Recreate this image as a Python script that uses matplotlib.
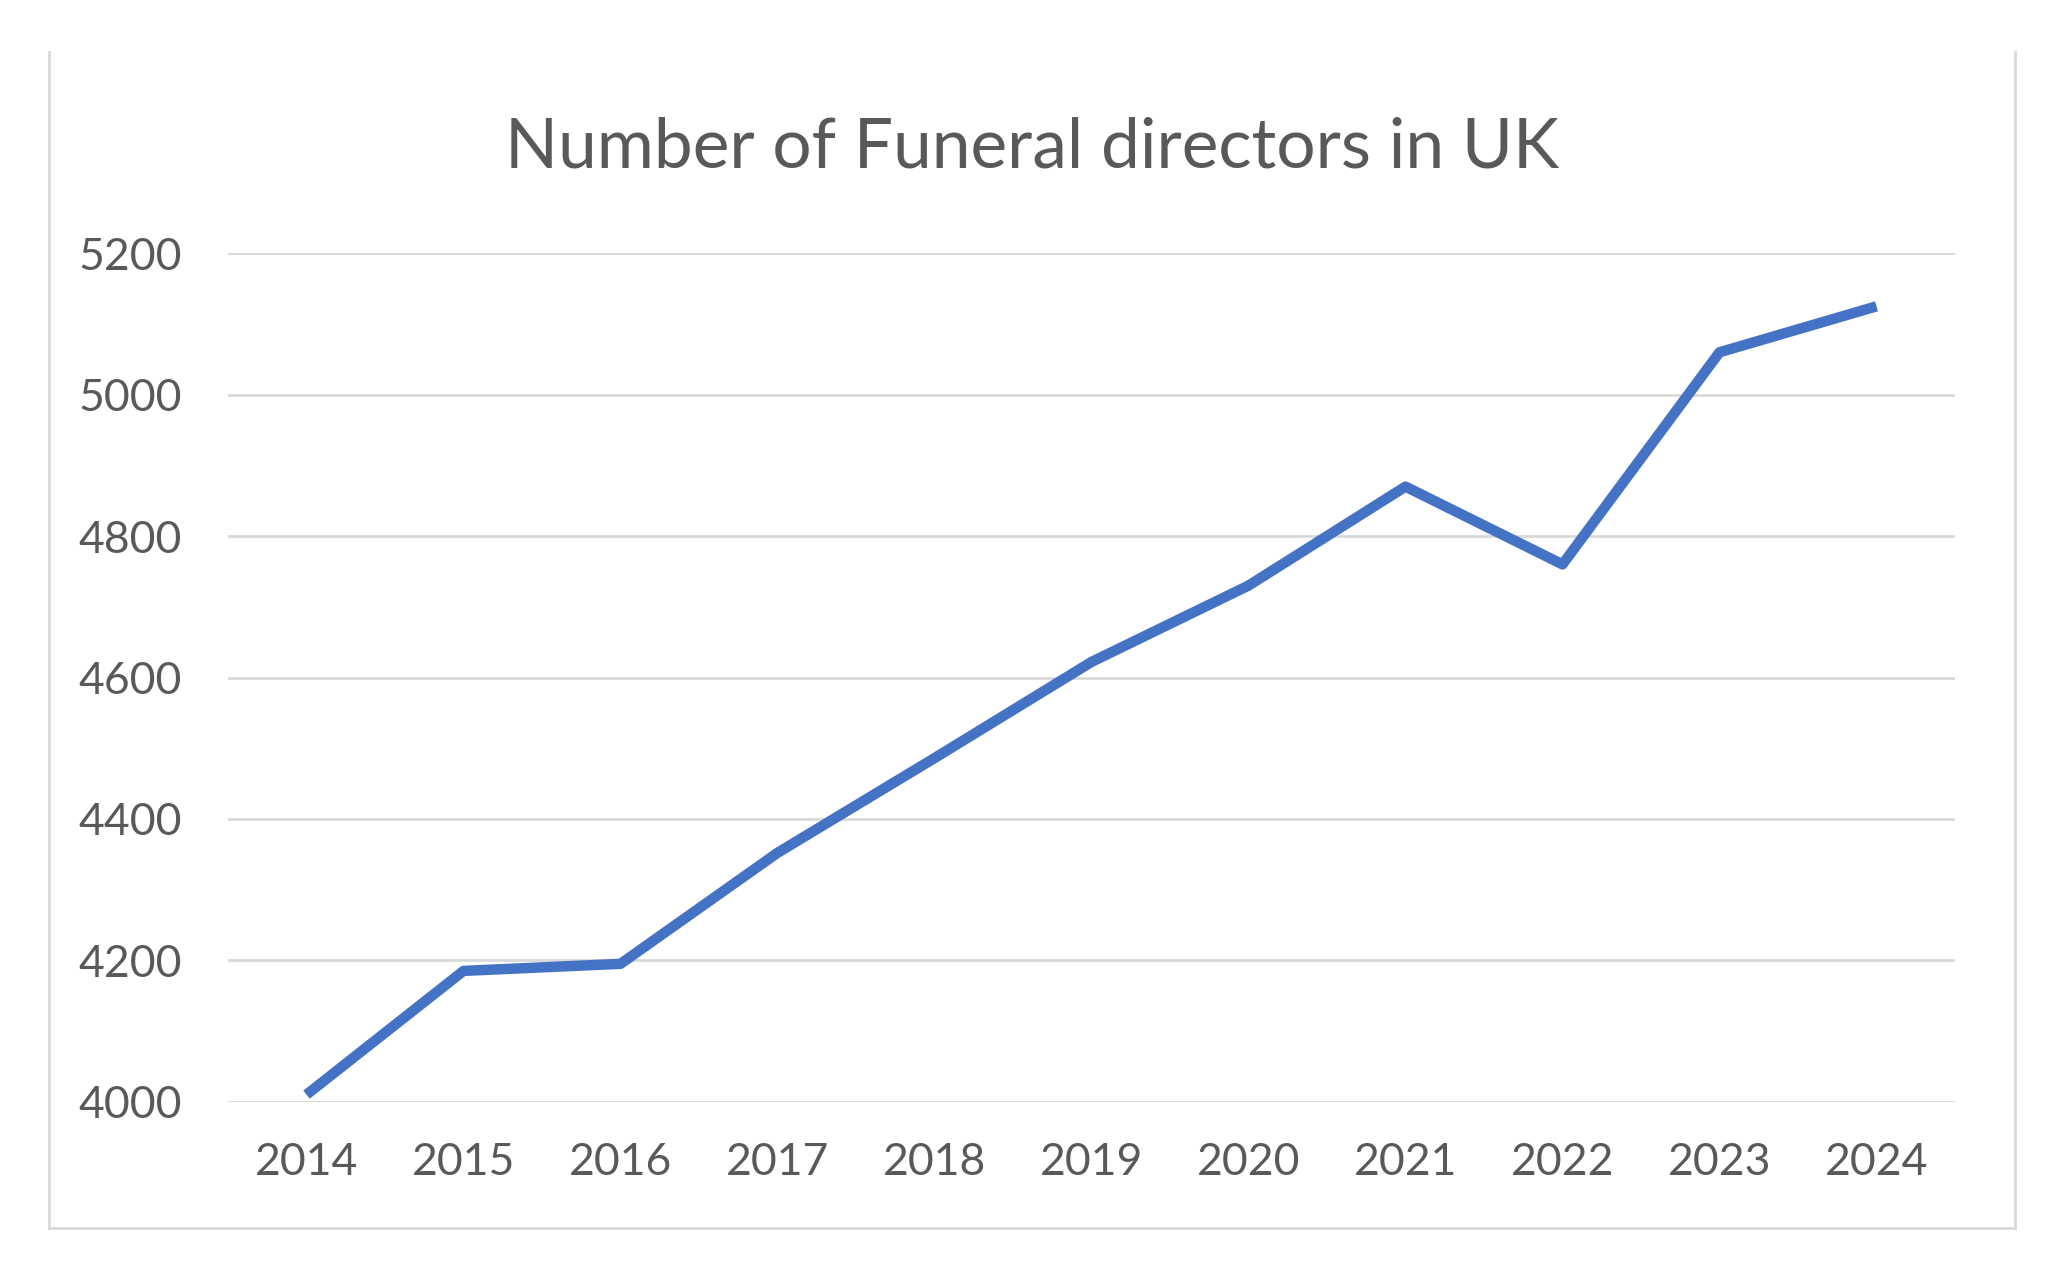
import matplotlib
matplotlib.use("Agg")
import matplotlib.pyplot as plt
from matplotlib.lines import Line2D

# Data
years = ["2014", "2015", "2016", "2017", "2018", "2019", "2020", "2021", "2022", "2023", "2024"]
directors = [4010, 4185, 4195, 4352, 4486, 4622, 4730, 4870, 4760, 5060, 5125]
yticks = [4000, 4200, 4400, 4600, 4800, 5000, 5200]
title = "Number of Funeral directors in UK"

plt.rcParams['font.family'] = ['Lato', 'DejaVu Sans']

W, H = 2048, 1283
fig = plt.figure(figsize=(W / 100, H / 100), dpi=100)
fig.patch.set_facecolor("white")

left, right = 228 / W, 1955 / W
bottom, top = 1 - 1101.7 / H, 1 - 253.3 / H
ax = fig.add_axes([left, bottom, right - left, top - bottom])

x = list(range(len(years)))
ax.plot(x, directors, color="#4472C4", lw=7.5, solid_joinstyle="round",
        solid_capstyle="butt", zorder=3)

ax.set_xlim(-0.5, len(years) - 0.5)
ax.set_ylim(yticks[0], yticks[-1])
ax.set_yticks(yticks)
ax.set_yticklabels([str(v) for v in yticks])
ax.set_xticks(x)
ax.set_xticklabels(years)

ax.grid(axis="y", color="#d9d9d9", lw=2)
ax.set_axisbelow(True)
for s in ax.spines.values():
    s.set_visible(False)
ax.axhline(yticks[0], color="#d9d9d9", lw=2, zorder=1)

ax.tick_params(axis="both", length=0, labelsize=32, labelcolor="#595959")
ax.tick_params(axis="y", pad=33)
ax.tick_params(axis="x", pad=29)
for lbl in ax.get_yticklabels():
    lbl.set_y(lbl.get_position()[1])

fig.text(1032 / W, 1 - 167 / H, title, ha="center", va="baseline",
         fontsize=50, color="#595959")

# chart-area frame (left, bottom, right)
fc = "#d9d9d9"
x0, x1 = 49 / W, 2015 / W
y0, y1 = 1 - 1228 / H, 1 - 52 / H
for xs, ys in [([x0, x0], [y1, y0]), ([x0, x1], [y0, y0]), ([x1, x1], [y0, y1])]:
    fig.add_artist(Line2D(xs, ys, transform=fig.transFigure, color=fc, lw=2))

fig.savefig("out.png", dpi=100, facecolor="white")
